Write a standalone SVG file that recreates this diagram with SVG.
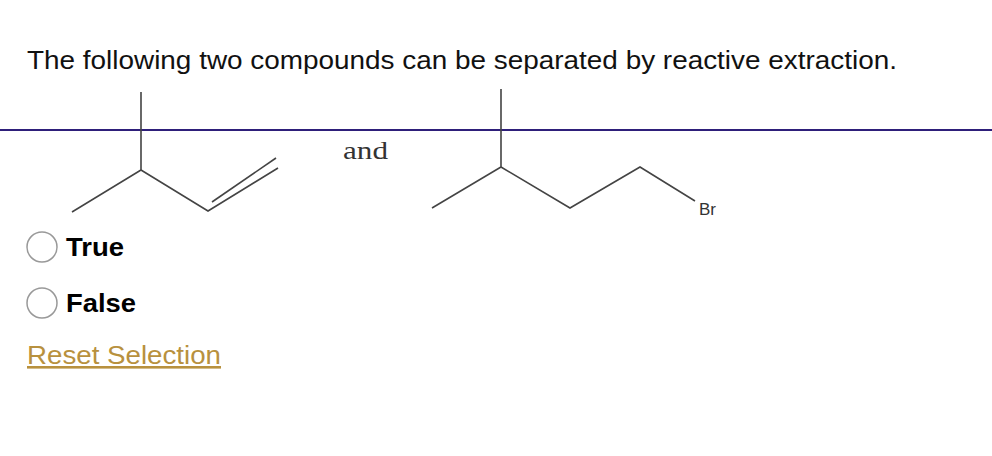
<svg xmlns="http://www.w3.org/2000/svg" width="992" height="456" viewBox="0 0 992 456">
<style>
.b{stroke:#444;stroke-width:1.6;fill:none}
.t{font-family:"Liberation Sans",Arial,sans-serif}
.r{fill:#fff;stroke:#999;stroke-width:1.5}
</style>
<rect width="992" height="456" fill="#fff"/>
<text class="t" x="27" y="69" font-size="26" fill="#111" textLength="870" lengthAdjust="spacingAndGlyphs">The following two compounds can be separated by reactive extraction.</text>
<line x1="0" y1="130" x2="992" y2="130" stroke="#2e1f7a" stroke-width="2"/>
<g id="mol1">
<polyline class="b" points="141,92 141,170 72,212"/>
<polyline class="b" points="141,170 208,211 278,168"/>
<line class="b" x1="212" y1="202" x2="276" y2="158"/>
</g>
<text x="343" y="159" font-size="26" style="font-family:'Liberation Serif',serif" fill="#333" textLength="45" lengthAdjust="spacingAndGlyphs">and</text>
<g id="mol2">
<polyline class="b" points="501,89 501,167 432,208"/>
<polyline class="b" points="501,167 570,208 640,167 695,201"/>
<text class="t" x="699" y="215" font-size="17" fill="#333">Br</text>
</g>
<g id="opt-true"><circle class="r" cx="42" cy="247" r="15"/><text class="t" x="66" y="256" font-size="25" font-weight="bold" textLength="58" lengthAdjust="spacingAndGlyphs">True</text></g>
<g id="opt-false"><circle class="r" cx="42" cy="303" r="15"/><text class="t" x="66" y="312" font-size="25" font-weight="bold" textLength="70" lengthAdjust="spacingAndGlyphs">False</text></g>
<text class="t" x="27" y="364" font-size="26" fill="#b8913e" text-decoration="underline" textLength="194" lengthAdjust="spacingAndGlyphs">Reset Selection</text>
</svg>
